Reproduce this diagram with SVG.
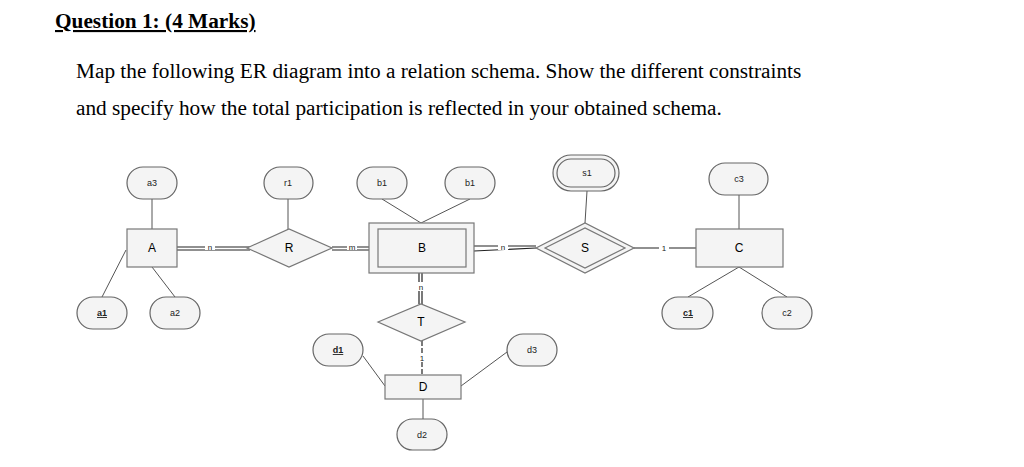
<svg xmlns="http://www.w3.org/2000/svg" width="1024" height="467" viewBox="0 0 1024 467">
<style>
.t{font-family:"Liberation Serif",serif;fill:#000}
.at{fill:#f4f4f4;stroke:#666;stroke-width:1.2}
.en{fill:#f4f4f4;stroke:#777;stroke-width:1.2}
.l{stroke:#555;stroke-width:1;fill:none}
.k{stroke:#222;stroke-width:1.2;fill:none}
.s{font-family:"Liberation Sans",sans-serif;font-size:9px;text-anchor:middle;fill:#222}
.b{font-family:"Liberation Sans",sans-serif;font-size:12px;text-anchor:middle;fill:#000}
.c{font-family:"Liberation Sans",sans-serif;font-size:8px;text-anchor:middle;fill:#222}
</style>
<rect width="1024" height="467" fill="#fff"/>
<text class="t" x="55" y="28" font-size="21.3" font-weight="bold" text-decoration="underline">Question 1: (4 Marks)</text>
<text class="t" x="76" y="78" font-size="21.3">Map the following ER diagram into a relation schema. Show the different constraints</text>
<text class="t" x="76" y="115" font-size="21.3">and specify how the total participation is reflected in your obtained schema.</text>
<g id="connectors">
<line class="l" x1="152" y1="199" x2="152" y2="229"/>
<line class="l" x1="102" y1="297" x2="126" y2="250"/>
<line class="l" x1="175" y1="297" x2="152" y2="267"/>
<line class="l" x1="288" y1="199" x2="288" y2="229"/>
<line class="l" x1="382" y1="199" x2="421" y2="223"/>
<line class="l" x1="470" y1="199" x2="421" y2="223"/>
<line class="l" x1="587" y1="191" x2="585" y2="223"/>
<line class="l" x1="739" y1="195" x2="739" y2="229"/>
<line class="l" x1="688" y1="297" x2="739" y2="267"/>
<line class="l" x1="787" y1="297" x2="739" y2="267"/>
<line class="l" x1="363" y1="356" x2="385" y2="386"/>
<line class="l" x1="507" y1="352" x2="461" y2="386"/>
<line class="l" x1="423" y1="399" x2="423" y2="419"/>
<path class="k" d="M177 247H250M177 250H250"/>
<path class="k" d="M332 247H369M332 250H369"/>
<path class="k" d="M474 246H536M474 251L536 248"/>
<path class="k" d="M634 248H696"/>
<path class="k" d="M419 273V304M422 273V304"/>
<path class="k" d="M422 341V375" stroke-dasharray="5,2"/>
<rect x="205" y="242" width="10" height="8" fill="#fff"/><text class="c" x="210" y="250">n</text>
<rect x="347" y="242" width="10" height="8" fill="#fff"/><text class="c" x="352" y="250">m</text>
<rect x="498" y="242" width="10" height="8" fill="#fff"/><text class="c" x="503" y="250">n</text>
<rect x="659" y="242" width="10" height="9" fill="#fff"/><text class="c" x="664" y="251">1</text>
<rect x="416" y="282" width="10" height="9" fill="#fff"/><text class="c" x="421" y="290">n</text>
<rect x="417" y="353" width="10" height="9" fill="#fff"/><text class="c" x="422" y="361">1</text>
</g>
<g id="a3"><rect class="at" x="127" y="167" width="50" height="32" rx="16"/><text class="s" x="152" y="186">a3</text></g>
<g id="r1"><rect class="at" x="264" y="167" width="49" height="32" rx="16"/><text class="s" x="288" y="186">r1</text></g>
<g id="b1a"><rect class="at" x="357" y="167" width="50" height="32" rx="16"/><text class="s" x="382" y="186">b1</text></g>
<g id="b1b"><rect class="at" x="445" y="167" width="50" height="32" rx="16"/><text class="s" x="470" y="186">b1</text></g>
<g id="s1"><rect class="at" x="553" y="155" width="66" height="36" rx="18"/><rect class="at" x="557" y="159" width="58" height="28" rx="14"/><text class="s" x="587" y="176">s1</text></g>
<g id="c3"><rect class="at" x="709" y="163" width="59" height="32" rx="16"/><text class="s" x="739" y="182">c3</text></g>
<g id="A"><rect class="en" x="127" y="229" width="50" height="38"/><text class="b" x="152" y="252">A</text></g>
<g id="R"><polygon class="en" points="247,248 289,229 332,248 289,267"/><text class="b" x="289" y="252">R</text></g>
<g id="B"><rect class="en" x="369" y="223" width="105" height="50"/><rect class="en" x="378" y="229" width="88" height="38"/><text class="b" x="422" y="252">B</text></g>
<g id="S"><polygon class="en" points="536,248 585,223 634,248 585,273"/><polygon class="en" points="545,248 585,228 625,248 585,268"/><text class="b" x="585" y="252">S</text></g>
<g id="C"><rect class="en" x="696" y="229" width="87" height="38"/><text class="b" x="739" y="252">C</text></g>
<g id="a1"><rect class="at" x="77" y="297" width="50" height="32" rx="16"/><text class="s" x="102" y="316" text-decoration="underline" font-weight="bold">a1</text></g>
<g id="a2"><rect class="at" x="150" y="297" width="50" height="32" rx="16"/><text class="s" x="175" y="316">a2</text></g>
<g id="c1"><rect class="at" x="662" y="297" width="51" height="32" rx="16"/><text class="s" x="688" y="316" text-decoration="underline" font-weight="bold">c1</text></g>
<g id="c2"><rect class="at" x="762" y="297" width="50" height="32" rx="16"/><text class="s" x="787" y="316">c2</text></g>
<g id="T"><polygon class="en" points="378,322 421,304 465,322 421,341"/><text class="b" x="421" y="326">T</text></g>
<g id="d1"><rect class="at" x="313" y="334" width="50" height="32" rx="16"/><text class="s" x="338" y="353" text-decoration="underline" font-weight="bold">d1</text></g>
<g id="d3"><rect class="at" x="507" y="334" width="50" height="32" rx="16"/><text class="s" x="532" y="353">d3</text></g>
<g id="D"><rect class="en" x="385" y="375" width="76" height="24"/><text class="b" x="423" y="391">D</text></g>
<g id="d2"><rect class="at" x="397" y="419" width="50" height="31" rx="15.5"/><text class="s" x="422" y="438">d2</text></g>
</svg>
